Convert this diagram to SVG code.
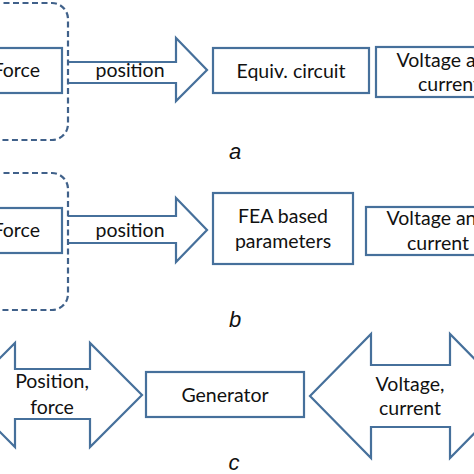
<svg xmlns="http://www.w3.org/2000/svg" width="474" height="474" viewBox="0 0 474 474">
<style>
.box{fill:#fff;stroke:#46709b;stroke-width:2.2}
.dash{fill:none;stroke:#40618a;stroke-width:2.2;stroke-dasharray:6 3.5}
.arr{fill:#fff;stroke:#46709b;stroke-width:2.2;stroke-linejoin:miter}
.t{font-family:Lato,"Open Sans",sans-serif;font-size:19.5px;fill:#111}
.lab{font-family:"Liberation Sans",Arial,sans-serif;font-style:italic;font-size:22px;fill:#111}
</style>
<rect width="474" height="474" fill="#fff"/>
<g id="connectors">
<path class="arr" d="M68,62 H176 V38 L207,70 L176,101 V83 H68"/>
<path class="arr" d="M68,216 H176 V198 L207,230 L176,262 V243 H68"/>
<polygon class="arr" points="-37,395 15,343 15,369 90,369 90,343 142,395 90,447 90,419 15,419 15,447"/>
<polygon class="arr" points="310,396 371,334 371,365 450,365 450,334 511,396 450,458 450,427 371,427 371,458"/>
</g>
<g id="group-a">
<rect class="dash" x="-60" y="3" width="128" height="137" rx="16"/>
</g>
<g id="group-b">
<rect class="dash" x="-60" y="173" width="128" height="137" rx="16"/>
</g>
<g id="force-a">
<rect class="box" x="-40" y="48" width="102" height="45"/>
<text class="t" x="40" y="77" text-anchor="end">Force</text>
</g>
<g id="position-a"><text class="t" x="130" y="77" text-anchor="middle">position</text></g>
<g id="equiv">
<rect class="box" x="213" y="48" width="156" height="45"/>
<text class="t" x="291" y="78" text-anchor="middle">Equiv. circuit</text>
</g>
<g id="voltage-a">
<rect class="box" x="376" y="47" width="150" height="50"/>
<text class="t" x="447" y="67" text-anchor="middle">Voltage and</text>
<text class="t" x="449" y="91" text-anchor="middle">current</text>
</g>
<g id="label-a"><text class="lab" x="235" y="159" text-anchor="middle">a</text></g>
<g id="force-b">
<rect class="box" x="-40" y="208" width="102" height="45"/>
<text class="t" x="40" y="237" text-anchor="end">Force</text>
</g>
<g id="position-b"><text class="t" x="130" y="237" text-anchor="middle">position</text></g>
<g id="fea">
<rect class="box" x="213" y="193" width="140" height="71"/>
<text class="t" x="283" y="223" text-anchor="middle">FEA based</text>
<text class="t" x="283" y="248" text-anchor="middle">parameters</text>
</g>
<g id="voltage-b">
<rect class="box" x="366" y="207" width="144" height="48"/>
<text class="t" x="437" y="225" text-anchor="middle">Voltage and</text>
<text class="t" x="438" y="250" text-anchor="middle">current</text>
</g>
<g id="label-b"><text class="lab" x="235" y="327" text-anchor="middle">b</text></g>
<g id="posforce"><text class="t" x="52" y="388" text-anchor="middle">Position,</text>
<text class="t" x="52" y="414" text-anchor="middle">force</text></g>
<g id="generator">
<rect class="box" x="146" y="372" width="158" height="45"/>
<text class="t" x="225" y="402" text-anchor="middle">Generator</text>
</g>
<g id="volcur"><text class="t" x="410" y="391" text-anchor="middle">Voltage,</text>
<text class="t" x="410" y="415" text-anchor="middle">current</text></g>
<g id="label-c"><text class="lab" x="234" y="470" text-anchor="middle">c</text></g>
</svg>
